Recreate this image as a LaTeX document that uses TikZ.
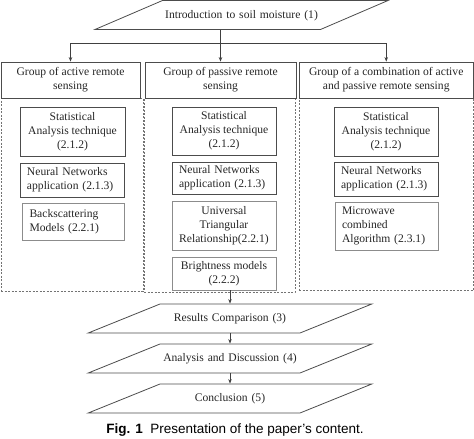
\documentclass[tikz,border=0pt]{standalone}
\usepackage{fontspec}
\setmainfont{Liberation Serif}
\newfontfamily\capfont{Liberation Sans}
\usetikzlibrary{shapes.geometric,arrows.meta}

\tikzset{
    txt/.style={font=\fontsize{11.6}{14}\selectfont, text=black!85},
    header/.style={txt, draw=black!70, line width=0.8pt, inner sep=0pt,
                   align=center, minimum height=36pt},
    groupframe/.style={draw=black!55, line width=0.8pt,
                       dash pattern=on 2pt off 1.5pt, inner sep=0pt},
    itembox/.style={txt, draw=black!70, line width=1pt, inner sep=0pt,
                    align=center, minimum width=104pt},
    leftbox/.style={txt, draw=black!70, line width=1pt, inner xsep=7pt,
                    inner ysep=0pt, text width=90pt, align=left},
    lightbox/.style={draw=black!45, line width=0.8pt},
    slantbox/.style={txt, trapezium, draw=black!70, line width=0.8pt,
                     inner xsep=0pt, inner ysep=8.5pt, text height=9pt,
                     text depth=3pt, align=center,
                     trapezium left angle=22, trapezium right angle=158},
    arr/.style={-{Stealth[length=4.5pt,width=3.5pt]}, black!75, line width=0.7pt}
}

\begin{document}
\begin{tikzpicture}[x=1pt, y=-1pt]
    \useasboundingbox (0, 0) rectangle (474, 439);

    \draw (241.5, 15) node
          [slantbox, text width=158pt,
           trapezium left angle=23.25, trapezium right angle=156.75] (intro)
          {Introduction to soil moisture (1)};

    \draw (72, 194.5) node
          [groupframe, minimum width=142pt, minimum height=193pt] (actf) {};
    \draw (219.5, 195) node
          [groupframe, minimum width=151pt, minimum height=194pt] (pasf) {};
    \draw (386.25, 194) node
          [groupframe, minimum width=174.5pt, minimum height=192pt] (comf) {};

    \draw (70.5, 80) node
          [header, minimum width=139pt] (actg)
          {Group of active remote\\sensing};
    \draw (220.5, 80) node
          [header, minimum width=151pt] (pasg)
          {Group of passive remote\\sensing};
    \draw (386.25, 80) node
          [header, minimum width=174.5pt] (comg)
          {Group of a combination of active\\and passive remote sensing};

    \coordinate (split) at (220.5, 43);
    \draw [arr] (pasg.north |- intro.south) -- (pasg.north);
    \draw [arr] (split) -| (actg.north);
    \draw [arr] (split) -| (comg.north);

    \draw (72.5, 131.5) node
          [itembox, minimum width=105pt, minimum height=49pt] (lsta)
          {Statistical\\Analysis technique\\(2.1.2)};
    \draw (72, 180) node
          [leftbox, minimum height=34pt] (lnn)
          {Neural Networks\\application (2.1.3)};
    \draw (73, 221.5) node
          [leftbox, lightbox, text width=87pt, inner xsep=7.5pt,
           minimum height=37pt] (lbs)
          {Backscattering\\Models (2.2.1)};

    \draw (224, 131) node
          [itembox, minimum height=48pt] (msta)
          {Statistical\\Analysis technique\\(2.1.2)};
    \draw (224, 178) node
          [leftbox, minimum height=32pt] (mnn)
          {Neural Networks\\application (2.1.3)};
    \draw (224, 225.5) node
          [itembox, lightbox, minimum height=49pt] (mutr)
          {Universal\\Triangular\\Relationship(2.2.1)};
    \draw (224, 273.5) node
          [itembox, lightbox, minimum height=33pt] (mbr)
          {Brightness models\\(2.2.2)};

    \draw (386, 131.5) node
          [itembox, minimum height=49pt] (rsta)
          {Statistical\\Analysis technique\\(2.1.2)};
    \draw (386, 179) node
          [leftbox, minimum height=34pt] (rnn)
          {Neural Networks\\application (2.1.3)};
    \draw (386.5, 226) node
          [leftbox, lightbox, text width=89pt, minimum height=48pt] (rmw)
          {Microwave\\combined\\Algorithm (2.3.1)};

    \draw (230, 318.5) node
          [slantbox, text width=140pt] (res)
          {Results Comparison (3)};
    \draw (230, 358.5) node
          [slantbox, text width=140pt] (ana)
          {Analysis and Discussion (4)};
    \draw (230, 398.5) node
          [slantbox, text width=140pt] (conc)
          {Conclusion (5)};

    \draw [arr] (res.north |- mbr.south) -- (res.north);
    \draw [arr] (res.south) -- (ana.north);
    \draw [arr] (ana.south) -- (conc.north);

    \draw (235, 430) node (cap)
          {\capfont\fontsize{13.5}{16}\selectfont
           \textbf{Fig. 1}\ \ Presentation of the paper’s content.};
\end{tikzpicture}
\end{document}
